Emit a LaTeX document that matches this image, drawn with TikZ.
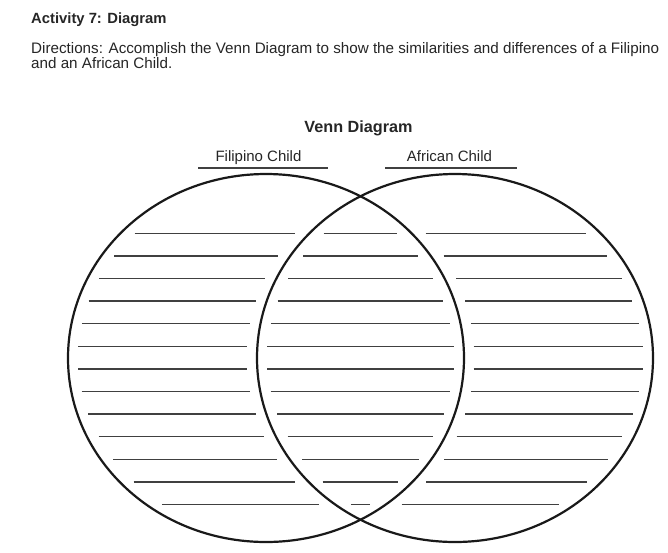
\documentclass[tikz,border=0pt]{standalone}
\usepackage{fontspec}
\setmainfont{Liberation Sans}
\usetikzlibrary{shapes.geometric,positioning}

\begin{document}
\begin{tikzpicture}[x=1pt, y=-1pt,
    heading/.style={font=\fontsize{14.8}{16}\selectfont\bfseries, text=black!85, inner sep=0pt},
    body/.style={font=\fontsize{15.2}{11.6}\selectfont, text=black!85, inner sep=0pt},
    setring/.style={draw=black!90, line width=2.2pt, ellipse, minimum width=396pt, minimum height=368pt, inner sep=0pt},
    writeline/.style={draw=black!75, line width=1.3pt},
    nameline/.style={draw=black!75, line width=1.5pt}]

    % Page
    \useasboundingbox (0,0) rectangle (668,552);
    \fill[white] (0,0) rectangle (668,552);

    % Heading
    \node[heading, anchor=base west] (activity) at (31,23) {Activity 7: Diagram};
    \node[body, anchor=base west, align=left] (directions) at (31,68.6)
        {Directions: Accomplish the Venn Diagram to show the similarities and differences of a Filipino\\and an African Child.};

    % Sets
    \node[setring] (filipino) at (266,358) {};
    \node[setring] (african) at (455,358) {};

    % Titles
    \node[heading, font=\fontsize{16.2}{18}\selectfont\bfseries, anchor=base] (venntitle) at (358.5,132) {Venn Diagram};
    \node[body, font=\fontsize{15}{17}\selectfont, anchor=base] (filipinolabel) at (258.5,161) {Filipino Child};
    \node[body, font=\fontsize{15}{17}\selectfont, anchor=base] (africanlabel) at (449.5,161) {African Child};
    \draw[nameline] (198,168) -- (328,168);
    \draw[nameline] (385,168) -- (517,168);

    % Writing lines
    \foreach \row in {0,...,12} {
        \pgfmathsetmacro{\yrow}{233.3+22.6*\row}
        \pgfmathsetmacro{\sq}{((\yrow-358)/184)*((\yrow-358)/184)}
        \pgfmathsetmacro{\half}{198*sqrt(1-\sq)}
        \pgfmathsetmacro{\gap}{10+9*\sq}
        \draw[writeline] (266-\half+\gap,\yrow) -- (455-\half-\gap,\yrow);
        \draw[writeline] (455-\half+\gap,\yrow) -- (266+\half-\gap,\yrow);
        \draw[writeline] (266+\half+\gap,\yrow) -- (455+\half-\gap,\yrow);
    }
\end{tikzpicture}
\end{document}
